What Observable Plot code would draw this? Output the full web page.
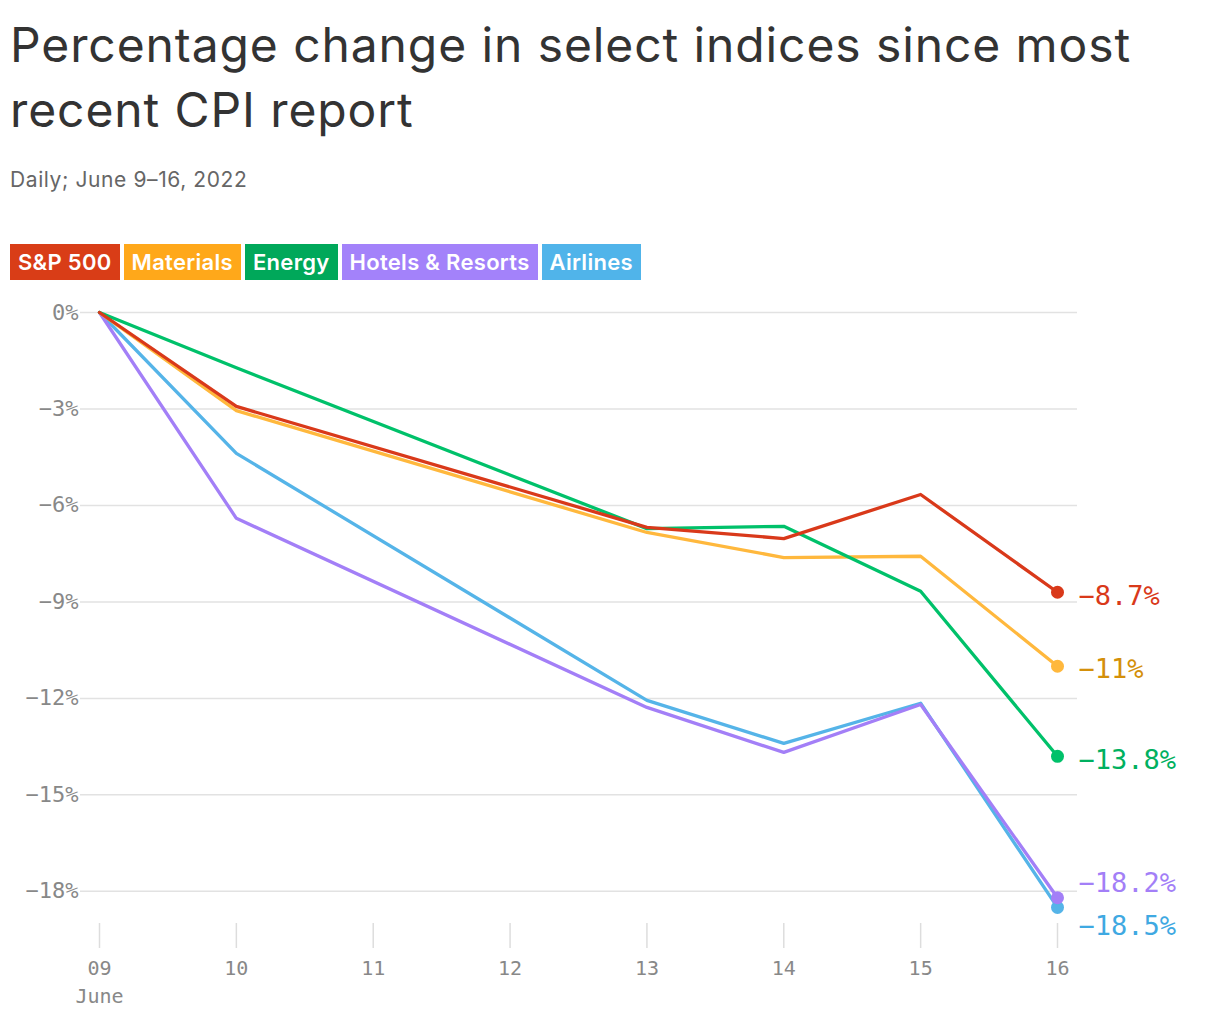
<!DOCTYPE html>
<html>
<head>
<meta charset="utf-8">
<script src="https://cdn.jsdelivr.net/npm/d3@7"></script>
<script src="https://cdn.jsdelivr.net/npm/@observablehq/plot@0.6"></script>
<style>
  html, body { margin: 0; padding: 0; background: #fff; }
  body { width: 1220px; height: 1020px; position: relative; overflow: hidden; font-family: Inter, "Noto Sans", sans-serif; }
  #title { position: absolute; left: 10px; top: 12px; font-size: 48px; line-height: 65px; color: #333; font-weight: 400; letter-spacing: 0.9px; }
  #subtitle { position: absolute; left: 10px; top: 167px; font-size: 21px; color: #666; letter-spacing: 0.6px; }
  #legend { position: absolute; left: 10px; top: 244px; display: flex; gap: 4px; }
  #legend span { display: inline-block; height: 36px; line-height: 36px; padding: 0 8px; color: #fff; font-weight: 600; font-size: 22px; letter-spacing: 0.3px; }
  #chart { position: absolute; left: 0; top: 290px; }
</style>
</head>
<body>
<div id="title">Percentage change in select indices since most<br>recent CPI report</div>
<div id="subtitle">Daily; June 9–16, 2022</div>
<div id="legend"></div>
<div id="chart"></div>
<script>
const dates = ["2022-06-09", "2022-06-10", "2022-06-13", "2022-06-14", "2022-06-15", "2022-06-16"];
const seriesNames = ["S&P 500", "Materials", "Energy", "Hotels & Resorts", "Airlines"];
const sp500    = [0, -2.92, -6.68, -7.03, -5.66, -8.7];
const materials = [0, -3.05, -6.84, -7.62, -7.58, -11.0];
const energy   = [0, -1.72, -6.72, -6.65, -8.67, -13.8];
const hotels   = [0, -6.4, -12.28, -13.68, -12.19, -18.2];
const airlines = [0, -4.38, -12.06, -13.4, -12.15, -18.5];
const endLabels = ["−8.7%", "−11%", "−13.8%", "−18.2%", "−18.5%"];
const lineColors = ["#d9391a", "#ffb83d", "#00c16a", "#a37ff7", "#55b4e8"];
const legendColors = ["#d93d17", "#ffa81a", "#00a85a", "#a382fa", "#50b4ea"];
const labelColors = ["#d9391a", "#d4900a", "#00b060", "#a37ff7", "#3fa9e2"];
const labelOffsets = [4, 3, 4, -14, 19];
const yTicks = [0, -3, -6, -9, -12, -15, -18];

const valuesBySeries = [sp500, materials, energy, hotels, airlines];
const parse = d3.utcParse("%Y-%m-%d");
const rows = [];
valuesBySeries.forEach((vals, i) => {
  vals.forEach((v, j) => rows.push({series: seriesNames[i], date: parse(dates[j]), value: v}));
});
const drawOrder = ["Airlines", "Hotels & Resorts", "Materials", "Energy", "S&P 500"];
const lastRows = seriesNames.map((s, i) => ({series: s, date: parse(dates[dates.length - 1]), value: valuesBySeries[i][valuesBySeries[i].length - 1], label: endLabels[i], dy: labelOffsets[i], color: labelColors[i]}));

// legend
const legend = document.getElementById("legend");
seriesNames.forEach((s, i) => {
  const el = document.createElement("span");
  el.textContent = s;
  el.style.background = legendColors[i];
  legend.appendChild(el);
});

const colorScale = {domain: seriesNames, range: lineColors};
const mono = "'DejaVu Sans Mono', 'Liberation Mono', monospace";
const xTicks = d3.utcDays(parse("2022-06-09"), parse("2022-06-17"));

const marks = [
  Plot.gridY(yTicks, {stroke: "#e2e2e2", strokeOpacity: 1, strokeWidth: 1.5}),
  Plot.axisY(yTicks, {tickSize: 0, tickPadding: 2, fontSize: 22, fill: "#888", fontFamily: mono, letterSpacing: 3.5, tickFormat: d => d === 0 ? "0%" : "−" + Math.abs(d) + "%", label: null}),
  Plot.axisX(xTicks, {tickSize: 25, tickPadding: 12, fontSize: 20, fill: "#888", stroke: "#ddd", strokeWidth: 1.5, fontFamily: mono, letterSpacing: 2, tickFormat: d3.utcFormat("%d"), label: null}),
  Plot.text([{date: parse("2022-06-09")}], {x: "date", y: () => -19, dy: 73, text: () => "June", fontSize: 20, fill: "#888", fontFamily: mono, letterSpacing: 2}),
];
drawOrder.forEach(s => {
  marks.push(Plot.line(rows.filter(r => r.series === s), {x: "date", y: "value", stroke: "series", strokeWidth: 3.3}));
});
drawOrder.forEach(s => {
  marks.push(Plot.dot(lastRows.filter(r => r.series === s), {x: "date", y: "value", fill: "series", r: 6.5}));
});
lastRows.forEach(r => {
  marks.push(Plot.text([r], {x: "date", y: "value", text: "label", dx: 21, dy: r.dy, textAnchor: "start", fill: r.color, fontSize: 27, fontFamily: mono, letterSpacing: 6}));
});

const chart = Plot.plot({
  width: 1220,
  height: 730,
  marginTop: 22,
  marginLeft: 80,
  marginRight: 143,
  marginBottom: 97,
  insetLeft: 19,
  insetRight: 20,
  x: {type: "utc", domain: [parse("2022-06-09"), parse("2022-06-16")], axis: null, label: null},
  y: {domain: [-19, 0], axis: null, label: null},
  color: colorScale,
  style: {background: "#fff", overflow: "visible"},
  marks
});
document.getElementById("chart").appendChild(chart);
</script>
</body>
</html>
